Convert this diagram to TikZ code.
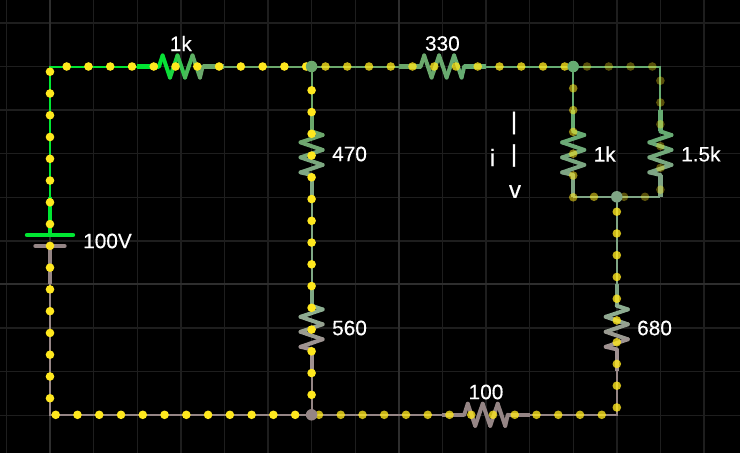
\documentclass[tikz,border=0pt]{standalone}
\usetikzlibrary{calc}
\usepackage{fontspec}
\setmainfont{Liberation Sans}
\definecolor{vhi}{HTML}{00E632}
\definecolor{vtop}{HTML}{6BA86B}
\definecolor{vmid}{HTML}{66AC72}
\definecolor{vpar}{HTML}{7FA585}
\definecolor{vsplit}{HTML}{7FA885}
\definecolor{vlow}{HTML}{958585}
\definecolor{dotc}{HTML}{FFE81E}
\definecolor{gridc}{HTML}{1E1E1E}
\definecolor{gridm}{HTML}{2E2E2E}
\tikzset{
  thinwire/.style={line width=2pt},
  lead/.style={line width=4.2pt},
  zig/.style={line width=4pt,line cap=round,line join=round},
  plate/.style={line width=4.4pt,line cap=round},
  junction/.style={circle,inner sep=0pt,minimum size=11.5pt},
  txtlabel/.style={text=white,inner sep=0pt,font=\fontsize{20.8}{24}\selectfont\addfontfeature{FakeBold=0.35}},
  biglabel/.style={text=white,inner sep=0pt,font=\fontsize{24}{26}\selectfont\addfontfeature{FakeBold=0.35}},
}
% start, end, angle, colour at start, colour at end
\newcommand{\myres}[5]{%
  \draw[lead,#4] (#1) -- ($(#1)!21.8pt!(#2)$);
  \draw[lead,#5] ($(#2)!21.8pt!(#1)$) -- (#2);
  \begin{scope}[shift={(#1)},rotate=#3]
    \foreach \xa/\ya/\xb/\yb/\pp in {21.8/0/25.4/-11/100,25.4/-11/32.8/11/92,32.8/11/40.3/-11/75,40.3/-11/47.8/11/50,47.8/11/55.3/-11/30,55.3/-11/62.8/11/10,62.8/11/65.4/0/0}
      \draw[zig,#4!\pp!#5] (\xa,\ya) -- (\xb,\yb);
  \end{scope}
}
\begin{document}
\begin{tikzpicture}[x=1pt,y=-1pt]
\useasboundingbox (0,0) rectangle (740,453);
\fill[black] (0,0) rectangle (740,453);
% grid
\foreach \k in {0,...,16} \draw[gridc,line width=1.4pt] ({6.4+43.6*\k},0) -- ({6.4+43.6*\k},453);
\foreach \k in {0,...,9} \draw[gridc,line width=1.4pt] (0,{22.9+43.6*\k}) -- (740,{22.9+43.6*\k});
\draw[gridm,line width=2.4pt] (50,0) -- (50,453);
\draw[gridm,line width=2.4pt] (398.8,0) -- (398.8,453);
\draw[gridm,line width=2.4pt] (0,284) -- (740,284);
% anchor points
\coordinate (tl) at (50,66.5);
\coordinate (bl) at (50,414.8);
\coordinate (tr) at (660.4,66.5);
\coordinate (pl) at (573.2,196.8);
\coordinate (pr) at (660.4,196.8);
\coordinate (br) at (616.8,414.8);
\coordinate (batA) at (50,196.8);
\coordinate (batB) at (50,284);
\coordinate (plA) at (50,235);
\coordinate (plB) at (50,246);
\coordinate (plAl) at (27,235);
\coordinate (plAr) at (73,235);
\coordinate (plBl) at (35.5,246);
\coordinate (plBr) at (64.5,246);
\coordinate (r1a) at (137.2,66.5);
\coordinate (r1b) at (224.4,66.5);
\coordinate (r2a) at (398.8,66.5);
\coordinate (r2b) at (486,66.5);
\coordinate (r3a) at (311.6,109.6);
\coordinate (r3b) at (311.6,196.8);
\coordinate (r4a) at (311.6,284);
\coordinate (r4b) at (311.6,371.2);
\coordinate (r5a) at (573.2,109.6);
\coordinate (r5b) at (573.2,196.8);
\coordinate (r6a) at (660.4,109.6);
\coordinate (r6b) at (660.4,196.8);
\coordinate (r7a) at (616.8,284);
\coordinate (r7b) at (616.8,371.2);
\coordinate (r8a) at (442.4,414.8);
\coordinate (r8b) at (529.6,414.8);
\coordinate (jA) at (311.6,66.5);
\coordinate (jB) at (573.2,66.5);
\coordinate (jC) at (616.8,196.8);
\coordinate (jD) at (311.6,414.8);
% wires
\draw[thinwire,vhi] (r1a) -- (tl) -- (batA);
\draw[thinwire,vtop] (r1b) -- (jA) -- (r2a);
\draw[thinwire,vtop] (jA) -- (r3a);
\draw[thinwire,vsplit] (r3b) -- (r4a);
\draw[thinwire,vlow] (r4b) -- (jD);
\draw[thinwire,vmid] (r2b) -- (jB) -- (tr) -- (r6a);
\draw[thinwire,vmid] (jB) -- (r5a);
\draw[thinwire,vpar] (pl) -- (pr);
\draw[thinwire,vpar] (jC) -- (r7a);
\draw[thinwire,vlow] (r7b) -- (br) -- (r8b);
\draw[thinwire,vlow] (r8a) -- (jD) -- (bl) -- (batB);
% battery
\draw[lead,vhi] (batA) -- (plA);
\draw[lead,vlow] (plB) -- (batB);
\draw[plate,vhi] (plAl) -- (plAr);
\draw[plate,vlow] (plBl) -- (plBr);
% resistors
\myres{r1a}{r1b}{0}{vhi}{vtop}
\myres{r2a}{r2b}{0}{vtop}{vmid}
\myres{r3a}{r3b}{-90}{vtop}{vsplit}
\myres{r4a}{r4b}{-90}{vsplit}{vlow!90!white}
\myres{r5a}{r5b}{-90}{vmid}{vpar}
\myres{r6a}{r6b}{-90}{vmid}{vpar}
\myres{r7a}{r7b}{-90}{vpar}{vlow!90!white}
\myres{r8a}{r8b}{0}{vlow}{vlow}
% current dots
\foreach \k in {0,...,15} \fill[dotc] (50,{71.7+21.77*\k}) circle (4.3);
\foreach \k in {0,...,11} \fill[dotc] ({66.7+21.77*\k},66.5) circle (4.3);
\foreach \k in {0,...,14} \fill[dotc] (311.6,{90.3+21.75*\k}) circle (4.3);
\foreach \k in {0,...,11} \fill[dotc] ({55.7+21.77*\k},414.8) circle (4.3);
\foreach \k in {0,...,11} \fill[dotc,opacity=.78] ({325.5+21.75*\k},66.5) circle (4.3);
\foreach \k in {0,...,13} \fill[dotc,opacity=.78] ({319+21.75*\k},414.8) circle (4.3);
\foreach \k in {0,...,9} \fill[dotc,opacity=.8] (616.8,{211.7+21.75*\k}) circle (4.3);
\foreach \k in {0,...,5} \fill[dotc,opacity=.55] (573.2,{88.3+21.8*\k}) circle (4.3);
\foreach \k in {0,...,3} \fill[dotc,opacity=.35] ({587+21.77*\k},66.5) circle (4.3);
\foreach \k in {0,...,5} \fill[dotc,opacity=.35] (660.4,{80.7+21.8*\k}) circle (4.3);
\fill[dotc,opacity=.55] (594,196.8) circle (4.3);
\fill[dotc,opacity=.35] (624,196.8) circle (4.3);
\fill[dotc,opacity=.35] (645,196.8) circle (4.3);
% junctions
\node[junction,fill=vtop] (jnA) at (jA) {};
\node[junction,fill=vmid] (jnB) at (jB) {};
\node[junction,fill=vpar] (jnC) at (jC) {};
\node[junction,fill=vlow] (jnD) at (jD) {};
% labels
\node[txtlabel] (l1) at (180.8,43.5) {1k};
\node[txtlabel] (l2) at (442.4,43.5) {330};
\node[txtlabel,anchor=west] (l3) at (332,154) {470};
\node[txtlabel,anchor=west] (l4) at (593.5,154) {1k};
\node[txtlabel,anchor=west] (l5) at (681,154) {1.5k};
\node[txtlabel,anchor=west] (l6) at (83,241) {100V};
\node[txtlabel,anchor=west] (l7) at (332,328) {560};
\node[txtlabel,anchor=west] (l8) at (637,328) {680};
\node[txtlabel] (l9) at (486,392) {100};
\node[biglabel] (l10) at (492.5,157.5) {i};
\node[biglabel] (l11) at (514,123) {|};
\node[biglabel] (l12) at (514,155.5) {|};
\node[biglabel] (l13) at (515,191.5) {v};
\end{tikzpicture}
\end{document}
